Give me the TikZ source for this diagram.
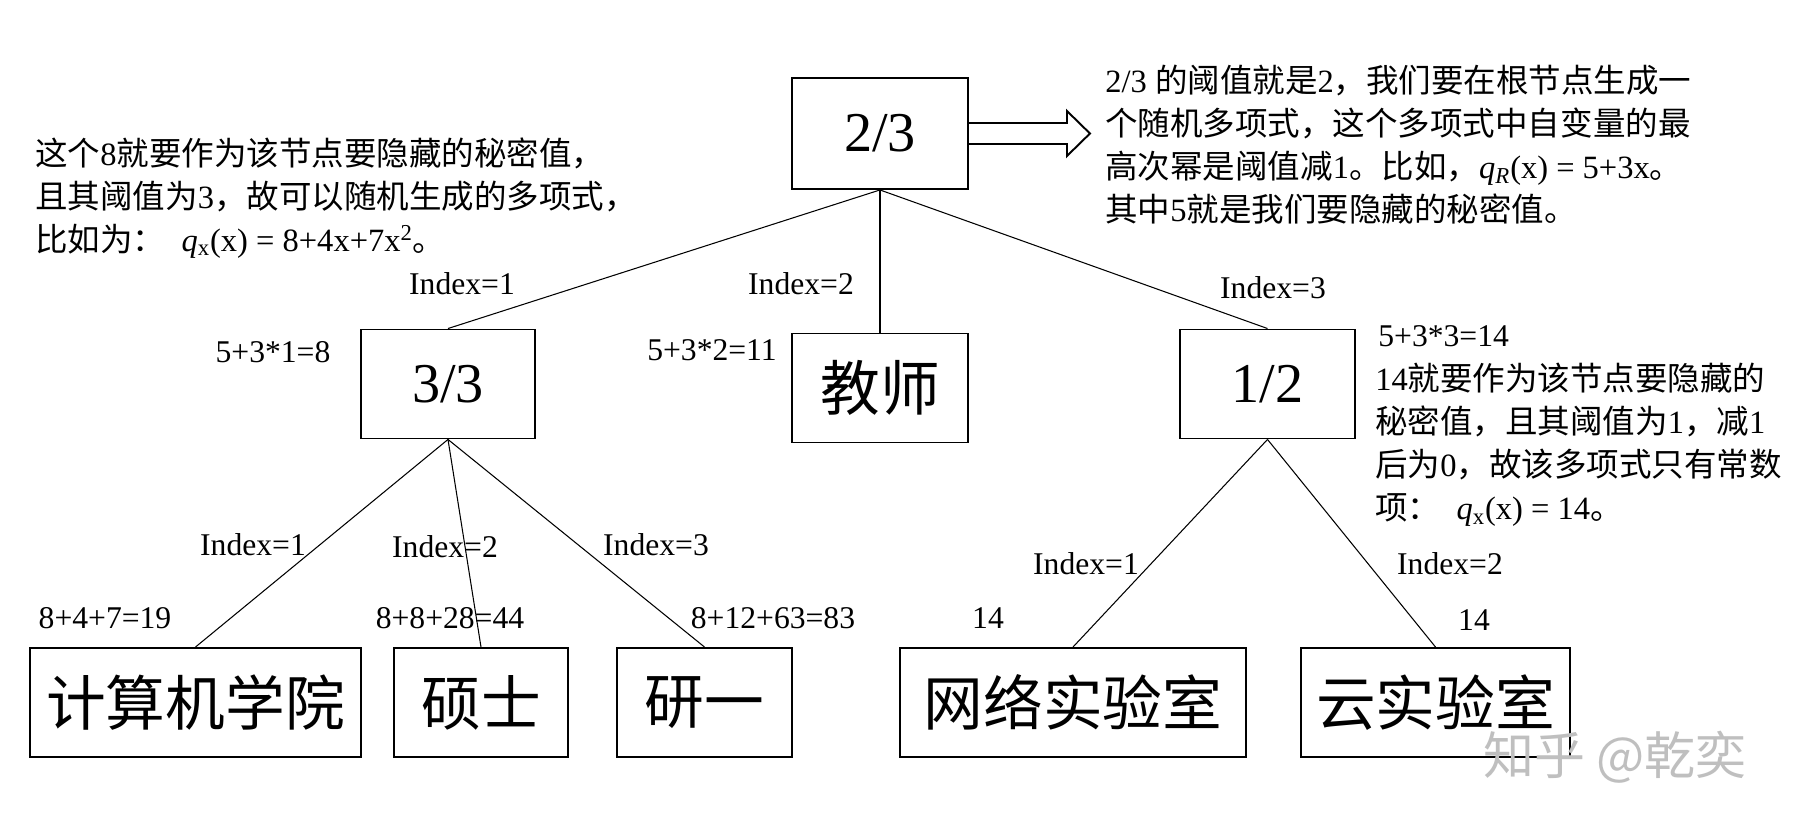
\documentclass[tikz,border=0pt]{standalone}
\usepackage{fontspec}
\setmainfont{Liberation Serif}
\newfontfamily\cjk{Noto Sans CJK SC}
\usetikzlibrary{positioning}
\newcommand{\zh}[1]{{\cjk #1}}
\newcommand{\qx}[1]{\textit{q}\textsubscript{#1}(x)}

\begin{document}
\begin{tikzpicture}[x=1cm,y=1cm,
    tbox/.style={draw,line width=1.1pt,inner sep=0pt,minimum height=2.18cm},
    big/.style={font=\fontsize{32}{36}\selectfont},
    bigzh/.style={font=\fontsize{34}{38}\selectfont\cjk},
    lbl/.style={font=\fontsize{18}{20}\selectfont,inner sep=0pt},
    note/.style={font=\fontsize{18.5}{24.5}\selectfont,align=left,inner sep=0pt,anchor=west},
    edge/.style={line width=0.6pt}]
  \useasboundingbox (0,0) rectangle (36.04,16.62);

  % tree nodes
  \node[tbox,big,minimum width=3.52cm,minimum height=2.22cm] (root) at (17.6,13.95) {2/3};
  \node[tbox,big,minimum width=3.48cm] (and33) at (8.96,8.94) {3/3};
  \node[tbox,bigzh,minimum width=3.52cm] (teacher) at (17.6,8.86) {教师};
  \node[tbox,big,minimum width=3.5cm] (or12) at (25.35,8.94) {1/2};
  \node[tbox,bigzh,minimum width=6.62cm] (college) at (3.91,2.57) {计算机学院};
  \node[tbox,bigzh,minimum width=3.48cm] (master) at (9.62,2.57) {硕士};
  \node[tbox,bigzh,minimum width=3.5cm] (grade1) at (14.09,2.57) {研一};
  \node[tbox,bigzh,minimum width=6.92cm] (netlab) at (21.46,2.57) {网络实验室};
  \node[tbox,bigzh,minimum width=5.38cm] (cloudlab) at (28.71,2.57) {云实验室};

  % hollow arrow to the note
  \draw[line width=1.1pt] (root.east) ++(0,0.21) -- ++(1.96,0) -- ++(0,0.24) -- ++(0.46,-0.45)
    -- ++(-0.46,-0.45) -- ++(0,0.24) -- ++(-1.96,0);

  % edges
  \draw[edge] (root.south) -- (and33.north);
  \draw[edge] (root.south) -- (teacher.north);
  \draw[edge] (root.south) -- (or12.north);
  \draw[edge] (and33.south) -- (college.north);
  \draw[edge] (and33.south) -- (master.north);
  \draw[edge] (and33.south) -- (grade1.north);
  \draw[edge] (or12.south) -- (netlab.north);
  \draw[edge] (or12.south) -- (cloudlab.north);

  % index and share labels
  \node[lbl] (idxA1) at (9.24,10.94) {Index=1};
  \node[lbl] (idxA2) at (16.02,10.94) {Index=2};
  \node[lbl] (idxA3) at (25.46,10.86) {Index=3};
  \node[lbl] (valA1) at (5.46,9.58) {5+3*1=8};
  \node[lbl] (valA2) at (14.24,9.62) {5+3*2=11};
  \node[lbl,anchor=west] (valA3) at (27.56,9.9) {5+3*3=14};
  \node[lbl] (idxB1) at (5.06,5.72) {Index=1};
  \node[lbl] (idxB2) at (8.9,5.68) {Index=2};
  \node[lbl] (idxB3) at (13.12,5.72) {Index=3};
  \node[lbl] (valB1) at (2.1,4.26) {8+4+7=19};
  \node[lbl] (valB2) at (9.0,4.26) {8+8+28=44};
  \node[lbl] (valB3) at (15.46,4.26) {8+12+63=83};
  \node[lbl] (idxC1) at (21.72,5.34) {Index=1};
  \node[lbl] (idxC2) at (29.0,5.34) {Index=2};
  \node[lbl] (valC1) at (19.76,4.26) {14};
  \node[lbl] (valC2) at (29.48,4.22) {14};

  % notes
  \node[note] (noteL) at (0.70,12.66) {\zh{这个}8\zh{就要作为该节点要隐藏的秘密值，}\\
    \zh{且其阈值为}3\zh{，故可以随机生成的多项式，}\\
    \zh{比如为：}\enskip\qx{x} = 8+4x+7x\textsuperscript{2}\zh{。}};
  \node[note] (noteR) at (22.1,13.72) {2/3 \zh{的阈值就是}2\zh{，我们要在根节点生成一}\\
    \zh{个随机多项式，这个多项式中自变量的最}\\
    \zh{高次幂是阈值减}1\zh{。比如，}\textit{q}\textsubscript{\textit{R}}(x) = 5+3x\zh{。}\\
    \zh{其中}5\zh{就是我们要隐藏的秘密值。}};
  \node[note] (noteC) at (27.5,7.72) {14\zh{就要作为该节点要隐藏的}\\
    \zh{秘密值，且其阈值为}1\zh{，减}1\\
    \zh{后为}0\zh{，故该多项式只有常数}\\
    \zh{项：}\enskip\qx{x} = 14\zh{。}};

  % watermark
  \node[font=\fontsize{29}{32}\selectfont\cjk,text=gray!50,inner sep=0pt] (mark) at (32.3,1.48) {知乎 @乾奕};
\end{tikzpicture}
\end{document}
